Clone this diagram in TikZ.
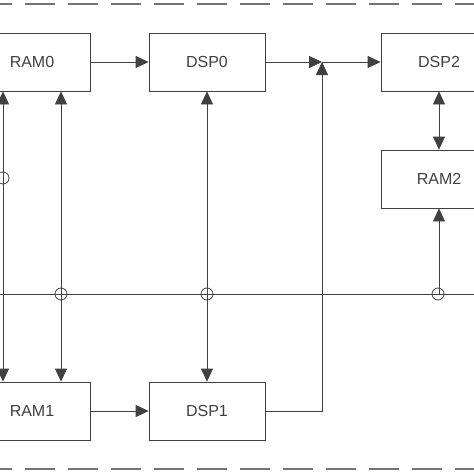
\documentclass[tikz,border=0pt]{standalone}
\usepackage{fontspec}
\setmainfont{Liberation Sans}
\usepackage{tikz}
\usetikzlibrary{arrows.meta}

\tikzset{
  blk/.style={draw=black!75, line width=0.8pt, minimum width=116pt, minimum height=58pt, inner sep=0pt, font=\fontsize{16}{16}\selectfont, text=black!75},
  arr/.style={draw=black!75, line width=0.8pt, -{Triangle[length=13pt,width=12pt]}},
  dbl/.style={draw=black!75, line width=0.8pt, {Triangle[length=13pt,width=12pt]}-{Triangle[length=13pt,width=12pt]}},
  wire/.style={draw=black!75, line width=0.8pt},
  tap/.style={draw=black!75, line width=0.8pt}
}

\begin{document}
\begin{tikzpicture}[x=1pt,y=-1pt]
\useasboundingbox (0,0) rectangle (474,474);

%Frame
\draw[black!55, line width=1.6pt, dash pattern=on 30pt off 13pt] (-18,4) -- (480,4);
\draw[black!55, line width=1.6pt, dash pattern=on 30pt off 13pt] (-18,469) -- (480,469);

%Blocks
\node[blk] (ram0) at (32,62) {RAM0};
\node[blk] (dsp0) at (207,62) {DSP0};
\node[blk] (dsp2) at (439,62) {DSP2};
\node[blk] (ram2) at (439,179) {RAM2};
\node[blk] (ram1) at (32,411) {RAM1};
\node[blk] (dsp1) at (207,411) {DSP1};

%Aux
\coordinate (merge) at (322,62);
\coordinate (busL) at (0,294);
\coordinate (busR) at (474,294);

%Bus
\draw[wire] (busL) -- (busR);

%Data path
\draw[arr] (ram0) -- (dsp0);
\draw[arr] (ram1) -- (dsp1);
\draw[arr] (dsp0) -- (merge);
\draw[arr] (merge) -- (dsp2);
\draw[arr] (dsp1.east) -- (dsp1.east -| merge) -- (merge);
\draw[dbl] (dsp2.south) -- (ram2.north);
\draw[arr] (ram2.south |- busL) -- (ram2.south);

%Memory links
\draw[dbl] ([xshift=-29pt]ram0.south) -- ([xshift=-29pt]ram1.north);
\draw[dbl] ([xshift=29pt]ram0.south) -- ([xshift=29pt]ram1.north);
\draw[dbl] (dsp0.south) -- (dsp1.north);

%Taps
\draw[tap] (3,178) circle (6);
\draw[tap] (61,294) circle (6);
\draw[tap] (207,294) circle (6);
\draw[tap] (438,294) circle (6);

\end{tikzpicture}
\end{document}
